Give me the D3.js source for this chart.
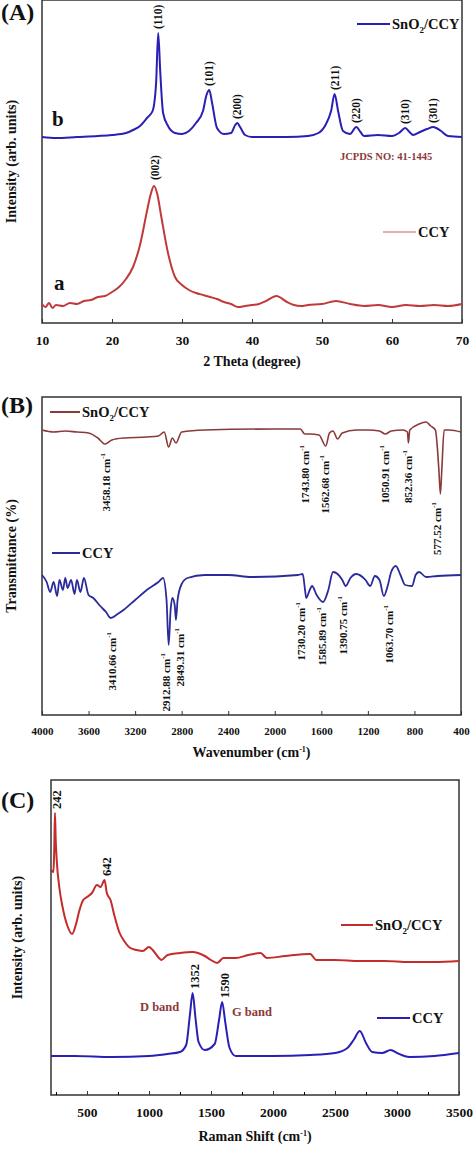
<!DOCTYPE html>
<html><head><meta charset="utf-8">
<script src="https://cdn.jsdelivr.net/npm/d3@7"></script>
<style>
body{margin:0;background:#fff}
svg text{font-family:"Liberation Serif","DejaVu Serif",serif;font-weight:bold;fill:#111}
</style></head>
<body>
<svg id="fig" width="474" height="1149"></svg>
<script>
// ---- panel A : XRD (2 theta, intensity arb.) ----
var xrdSnO2 = [[10,186],[12,185],[15,186],[18,187],[20,188],[22,190],[23,193],[24,197],[25,205],[25.8,212],[26.3,240],[26.6,290],[26.9,250],[27.3,210],[28,197],[29,190],[30,189],[31,192],[32,200],[33,212],[33.5,228],[33.9,233],[34.3,220],[35,195],[36,189],[37,190],[37.6,198],[37.9,200],[38.3,196],[39,188],[40,186],[45,186],[48,187],[49.5,190],[50.5,198],[51.3,212],[51.8,229],[52.3,212],[53,192],[54,189],[54.9,196],[55.5,191],[56,187],[58,188],[60,187],[61,190],[61.9,195],[62.5,191],[63,188],[64,191],[65,194],[65.9,196],[67,192],[68,187],[70,186]];
var xrdCCY = [[10,19],[10.5,16],[11,20],[11.5,15],[12,18],[13,17],[14,20],[15,19],[16,22],[17,23],[18,26],[19,27],[20,31],[21,36],[22,44],[23,56],[24,78],[25,112],[25.5,128],[26,137],[26.5,128],[27,108],[28,70],[29,46],[30,38],[31,33],[32,30],[33,28],[34,26],[35,24],[36,21],[37,19],[38,16],[39,17],[40,18],[41,19],[42,22],[43.5,27],[45,21],[46,18],[47,17],[48,18],[50,19],[52,22],[54,19],[56,17],[58,18],[60,16],[62,18],[64,17],[66,18],[68,17],[70,19]];
var xrdPeaks = [["(110)",26.6,290],["(101)",33.9,233],["(200)",37.9,200],["(211)",51.8,229],["(220)",54.9,196],["(310)",61.9,195],["(301)",65.9,196]];
var xrdCCYPeak = ["(002)",26,137];
var xrdTicks = [10,20,30,40,50,60,70];

// ---- panel B : FTIR (wavenumber, transmittance arb.; values = 715 - pixel row) ----
var ftirSnO2 = [[4000,285],[3900,283],[3800,284],[3700,283],[3600,282],[3520,277],[3458,271],[3400,275],[3300,277],[3100,278],[3000,279],[2950,283],[2912,268],[2880,277],[2849,272],[2800,283],[2600,285],[2000,286],[1780,286],[1743,281],[1700,281],[1620,280],[1562,269],[1530,282],[1500,284],[1460,276],[1420,282],[1300,285],[1200,285],[1100,284],[1050,281],[1000,284],[900,285],[860,283],[852,272],[840,285],[760,291],[700,293],[660,289],[620,285],[590,245],[577,221],[565,245],[545,285],[500,285],[400,283]];
var ftirCCY = [[4000,140],[3960,133],[3930,123],[3900,133],[3870,119],[3850,135],[3820,125],[3800,137],[3780,127],[3750,135],[3720,121],[3700,135],[3670,123],[3640,137],[3600,120],[3560,117],[3500,109],[3450,103],[3410,97],[3350,101],[3300,105],[3200,115],[3100,125],[3000,133],[2960,137],[2930,115],[2912,70],[2895,105],[2880,117],[2860,110],[2849,95],[2835,115],[2800,131],[2750,137],[2600,140],[2400,140],[2200,138],[1800,140],[1760,141],[1740,125],[1730,117],[1700,125],[1680,129],[1640,120],[1585,113],[1540,125],[1500,143],[1460,141],[1420,135],[1390,129],[1350,137],[1300,141],[1220,135],[1180,129],[1140,139],[1100,135],[1063,119],[1030,129],[1000,143],[960,149],[920,140],[880,130],[820,129],[790,140],[760,143],[700,138],[600,139],[400,140]];
var ftirLabelsSnO2 = [["3458.18",106,453],["1743.80",305,445],["1562.68",325,455],["1050.91",385,445],["852.36",408,450],["577.52",437,502]];
var ftirLabelsCCY = [["3410.66",112,632],["2912.88",166,653],["2849.31",180,628],["1730.20",301,602],["1585.89",322,607],["1390.75",343,596],["1063.70",389,605]];
var ftirTicks = [4000,3600,3200,2800,2400,2000,1600,1200,800,400];

// ---- panel C : Raman (values = 1095 - pixel row) ----
var ramanSnO2 = [[210,225],[230,223],[236,245],[242,282],[248,255],[255,237],[280,205],[300,190],[340,170],[380,161],[410,170],[440,185],[470,195],[500,198],[540,202],[580,210],[610,208],[642,215],[660,202],[690,195],[720,180],[760,163],[800,154],[850,147],[900,145],[950,144],[1000,148],[1030,145],[1080,137],[1100,135],[1150,140],[1250,142],[1350,143],[1450,139],[1500,135],[1550,132],[1600,137],[1700,137],[1800,140],[1900,142],[1950,137],[2100,139],[2300,141],[2350,135],[2500,135],[2700,134],[2900,134],[3100,133],[3300,133],[3500,134]];
var ramanCCY = [[210,39],[400,39],[700,38],[1000,39],[1150,41],[1250,43],[1300,50],[1330,80],[1352,102],[1375,77],[1400,53],[1450,45],[1530,51],[1565,75],[1590,93],[1615,73],[1650,47],[1700,39],[2000,39],[2300,40],[2500,42],[2600,47],[2650,55],[2700,64],[2750,52],[2800,43],[2880,42],[2950,45],[3000,42],[3100,38],[3300,39],[3500,42]];
var ramanLabels = [["242",242,282],["642",642,215],["1352",1352,102],["1590",1590,93]];
var ramanTicks = [500,1000,1500,2000,2500,3000,3500];
var ramanMinor = [250,750,1250,1750,2250,2750,3250];

var svg = d3.select("#fig");

function panel(o) {
  var x = d3.scaleLinear().domain(o.xdom).range([o.l, o.r]);
  var y = d3.scaleLinear().domain([0, o.b - o.t]).range([o.b, o.t]);
  var g = svg.append("g");
  g.append("rect").attr("x", o.l).attr("y", o.t).attr("width", o.r - o.l).attr("height", o.b - o.t)
    .attr("fill", "none").attr("stroke", "#333").attr("stroke-width", 1.5);
  var ax = g.append("g").attr("transform", "translate(0," + o.b + ")")
    .call(d3.axisBottom(x).tickValues(o.ticks).tickSize(-4).tickPadding(12).tickFormat(d3.format("d")));
  ax.select(".domain").remove();
  ax.selectAll("line").attr("stroke", "#333");
  ax.selectAll("text").attr("font-size", o.tickSize || 13.5).attr("font-family", "Liberation Serif").attr("font-weight", "bold").attr("fill", "#111");
  if (o.minor) {
    g.append("g").attr("transform", "translate(0," + o.b + ")")
      .call(d3.axisBottom(x).tickValues(o.minor).tickSize(-3).tickFormat(""))
      .select(".domain").remove();
  }
  var line = d3.line().x(function(d){return x(d[0]);}).y(function(d){return y(d[1]);}).curve(d3.curveMonotoneX);
  o.series.forEach(function(s) {
    g.append("path").datum(s.data)
      .attr("fill", "none").attr("stroke", s.color).attr("stroke-width", s.w || 2)
      .attr("stroke-linejoin", "round").attr("d", line);
  });
  var xt = g.append("text").attr("x", (o.l + o.r) / 2).attr("y", o.xtY).attr("text-anchor", "middle").attr("font-size", 14).text(o.xtitle);
  if (o.sup) {
    xt.append("tspan").attr("font-size", 8).attr("dy", -5).text("-1");
    xt.append("tspan").attr("dy", 5).text(")");
  }
  g.append("text").attr("transform", "translate(" + o.ytX + "," + ((o.t + o.b) / 2) + ") rotate(-90)")
    .attr("text-anchor", "middle").attr("font-size", 14).text(o.ytitle);
  g.append("text").attr("x", 1).attr("y", o.tagY).attr("font-size", 24).text(o.tag);
  return {x: x, y: y, g: g};
}

function legend(g, x1, x2, y, color, main, sub, after) {
  g.append("line").attr("x1", x1).attr("x2", x2).attr("y1", y).attr("y2", y).attr("stroke", color).attr("stroke-width", 2);
  var t = g.append("text").attr("x", x2 + 2).attr("y", y + 5).attr("font-size", 14.5).text(main);
  if (sub) {
    t.append("tspan").attr("font-size", 9).attr("dy", 4).text(sub);
    t.append("tspan").attr("dy", -4).text(after);
  }
}

function vlabel(g, x, y, txt, anchor, size, sup) {
  var t = g.append("text").attr("transform", "translate(" + x + "," + y + ") rotate(-90)")
    .attr("text-anchor", anchor).attr("dy", "0.35em").attr("font-size", size).text(txt);
  if (sup) { t.append("tspan").text(" cm"); t.append("tspan").attr("font-size", 7).attr("dy", -5).text("-1"); }
  return t;
}

// Panel A
var A = panel({l: 42, r: 462, t: 0, b: 323, xdom: [10, 70], ticks: xrdTicks, xtY: 366, xtitle: "2 Theta (degree)",
  ytitle: "Intensity (arb. units)", ytX: 16, tag: "(A)", tagY: 20,
  series: [{data: xrdSnO2, color: "#2a1fb5"}, {data: xrdCCY, color: "#c0393b"}]});
xrdPeaks.forEach(function(p){ vlabel(A.g, A.x(p[1]), A.y(p[2]) - 4, p[0], "start", 11.5); });
vlabel(A.g, A.x(xrdCCYPeak[1]) + 1, A.y(xrdCCYPeak[2]) - 6, xrdCCYPeak[0], "start", 11.5);
legend(A.g, 357, 390, 24, "#2a1fb5", "SnO", "2", "/CCY");
legend(A.g, 383, 416, 232, "#e0b0b0", "CCY");
A.g.append("text").attr("x", 340).attr("y", 160).attr("font-size", 10.5).style("fill", "#8b3a3a").text("JCPDS NO: 41-1445");
A.g.append("text").attr("x", 52).attr("y", 126).attr("font-size", 21).text("b");
A.g.append("text").attr("x", 54).attr("y", 290).attr("font-size", 21).text("a");

// Panel B
var B = panel({l: 42, r: 461, t: 397, b: 715, xdom: [4000, 400], ticks: ftirTicks, tickSize: 11, xtY: 757, xtitle: "Wavenumber (cm", sup: true,
  ytitle: "Transmittance (%)", ytX: 16, tag: "(B)", tagY: 413,
  series: [{data: ftirSnO2, color: "#8b3a3a", w: 1.6}, {data: ftirCCY, color: "#2a2a9a", w: 1.8}]});
ftirLabelsSnO2.concat(ftirLabelsCCY).forEach(function(p){ vlabel(B.g, p[1], p[2], p[0], "end", 11, true); });
legend(B.g, 50, 80, 412, "#8b3a3a", "SnO", "2", "/CCY");
legend(B.g, 52, 80, 553, "#2a2a9a", "CCY");

// Panel C
var C = panel({l: 51, r: 459, t: 780, b: 1095, xdom: [210, 3500], ticks: ramanTicks, minor: ramanMinor, xtY: 1141, xtitle: "Raman Shift (cm", sup: true,
  ytitle: "Intensity (arb. units)", ytX: 22, tag: "(C)", tagY: 808,
  series: [{data: ramanSnO2, color: "#c42b2b"}, {data: ramanCCY, color: "#2a1fb5"}]});
ramanLabels.forEach(function(p){ vlabel(C.g, C.x(p[1]) + 2, C.y(p[2]) - 4, p[0], "start", 12.5); });
C.g.append("text").attr("x", 140).attr("y", 1011).attr("font-size", 12.5).style("fill", "#8b3a3a").text("D band");
C.g.append("text").attr("x", 232).attr("y", 1016).attr("font-size", 12.5).style("fill", "#8b3a3a").text("G band");
legend(C.g, 341, 373, 925, "#c42b2b", "SnO", "2", "/CCY");
legend(C.g, 377, 410, 1018, "#2a1fb5", "CCY");
</script>
</body></html>
